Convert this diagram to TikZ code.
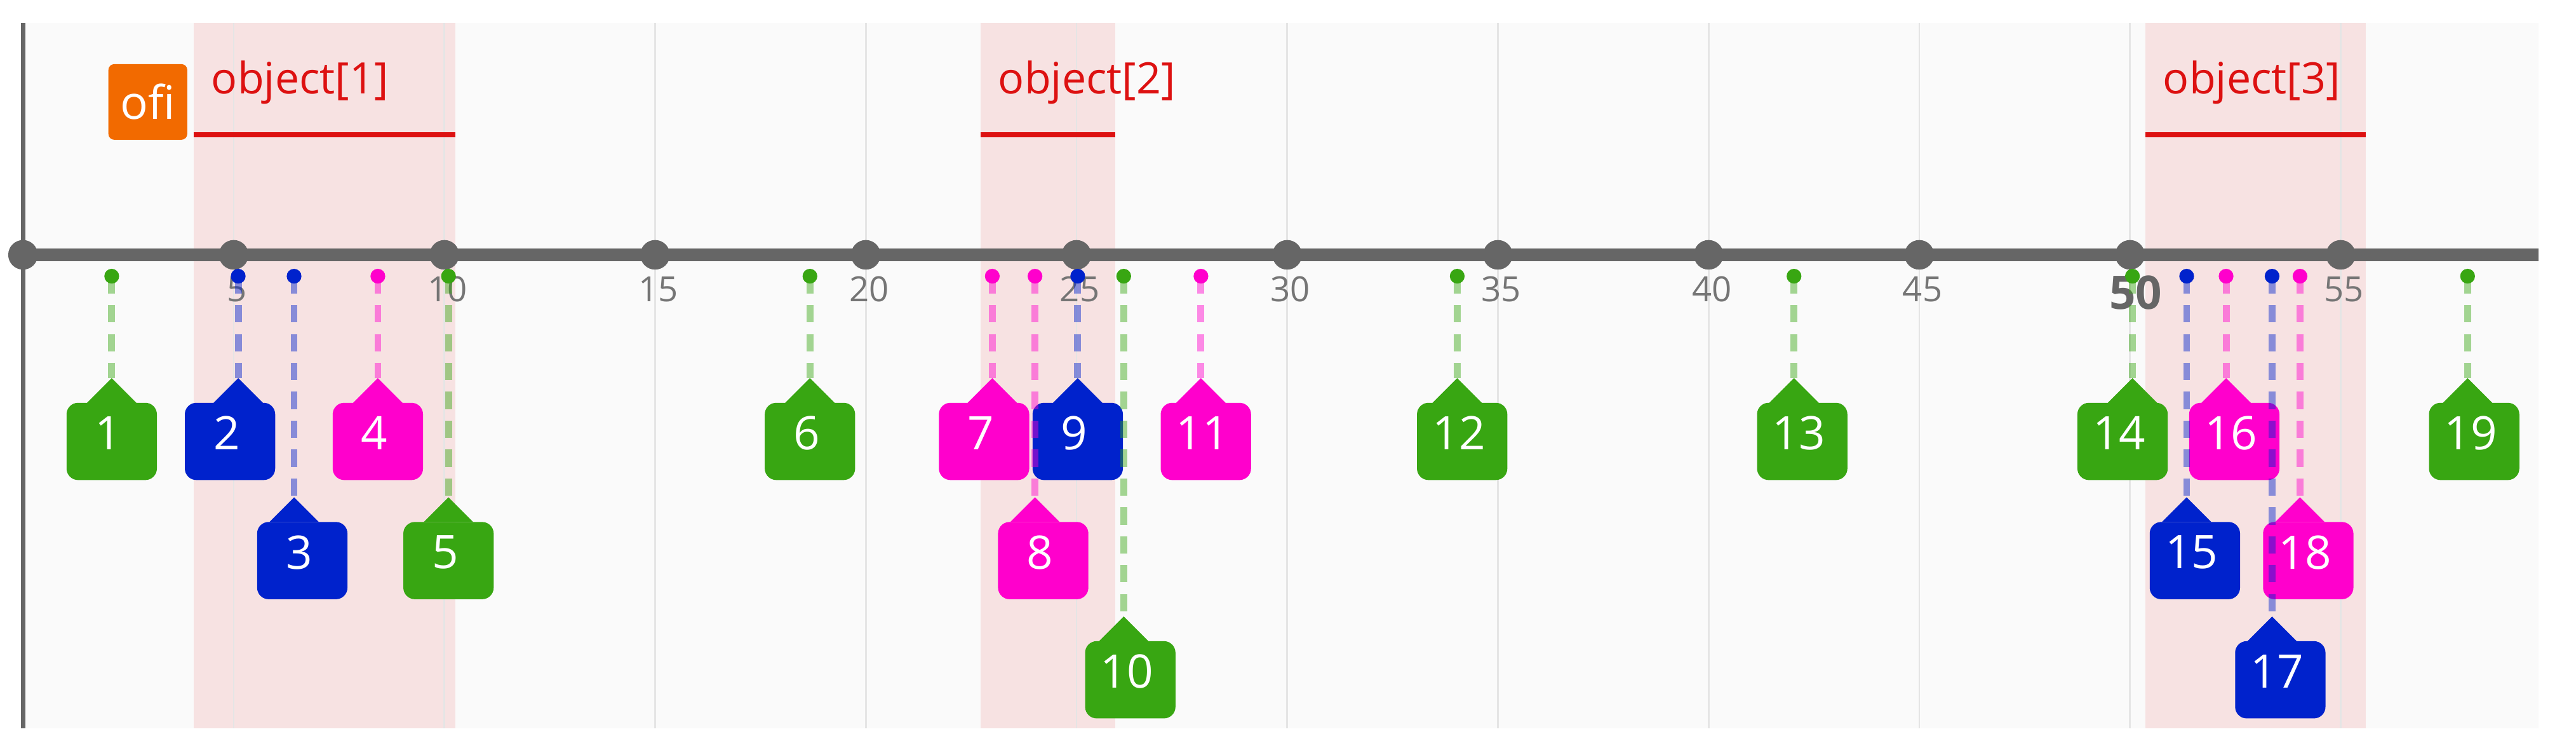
\documentclass[tikz,border=0pt]{standalone}
\usepackage{fontspec}
\setmainfont{Open Sans}
\definecolor{tg}{HTML}{38A612}
\definecolor{tb}{HTML}{0022CC}
\definecolor{tp}{HTML}{FF00CC}
\definecolor{pinkshade}{HTML}{F7E2E2}
\definecolor{axisc}{HTML}{666666}
\definecolor{objred}{HTML}{DD1111}
\definecolor{ofic}{HTML}{F26A00}
\tikzset{
  tick/.style={font=\fontsize{6}{7}\selectfont, text=axisc!90},
  taglabel/.style={font=\fontsize{8}{9}\selectfont, text=white},
  objlabel/.style={font=\fontsize{7.5}{9}\selectfont, text=objred, anchor=west, inner sep=0pt},
  grid/.style={draw=black!10, line width=0.3pt},
}
\begin{document}
\begin{tikzpicture}[x=0.1cm,y=-0.1cm]
\useasboundingbox (0,0) rectangle (156.8,45.9);
\fill[black!2] (1.4,1.4) rectangle (154.5,44.3);
% shaded regions
\fill[pinkshade] (11.8,1.4) rectangle (27.7,44.3);
\fill[pinkshade] (59.7,1.4) rectangle (67.9,44.3);
\fill[pinkshade] (130.6,1.4) rectangle (144.0,44.3);
% grid
\foreach \v in {5,10,...,55}{
  \draw[grid] ({1.4+2.565*\v},1.4) -- ({1.4+2.565*\v},44.3);
}
\draw[axisc, line width=0.8pt] (1.4,1.4) -- (1.4,44.3);
% object labels
\foreach \a/\b/\t [count=\i] in {11.8/27.7/object[1],59.7/67.9/object[2],130.6/144.0/object[3]}{
  \draw[objred, line width=0.9pt] (\a,8.2) -- (\b,8.2);
  \node[objlabel] (obj\i) at (\a+1.0,5.0) {\t};
}
\node[fill=ofic, rounded corners=1pt, minimum width=4.8mm, minimum height=4.6mm, inner sep=0pt, text=white, font=\fontsize{8}{9}\selectfont] (ofi) at (9.0,6.2) {of\hspace{0pt}i};
% axis
\draw[axisc, line width=2.2pt] (1.4,15.5) -- (154.5,15.5);
\foreach \v in {0,5,...,55}{
  \fill[axisc] ({1.4+2.565*\v},15.5) circle (0.9);
}
\foreach \v in {5,10,...,45,55}{
  \node[tick] (tk\v) at ({1.6+2.565*\v},17.6) {\v};
}
\node[font=\bfseries\fontsize{8}{9}\selectfont, text=axisc] (tk50) at (130.0,17.8) {50};
% tags: num / tip x / row / colour / box centre x
\foreach \n/\x/\r/\c/\bx in {
  1/6.8/1/tg/6.8, 2/14.5/1/tb/14.0, 3/17.9/2/tb/18.4, 4/23.0/1/tp/23.0,
  5/27.3/2/tg/27.3, 6/49.3/1/tg/49.3, 7/60.4/1/tp/59.9, 8/63.0/2/tp/63.5,
  9/65.6/1/tb/65.6, 10/68.4/3/tg/68.8, 11/73.1/1/tp/73.4, 12/88.7/1/tg/89.0,
  13/109.2/1/tg/109.7, 14/129.8/1/tg/129.2, 15/133.1/2/tb/133.6, 16/135.5/1/tp/136.0,
  17/138.3/3/tb/138.8, 18/140.0/2/tp/140.5, 19/150.2/1/tg/150.6}{
  \pgfmathsetmacro\tipy{23.0+7.25*(\r-1)}
  \pgfmathsetmacro\topy{\tipy+1.5}
  \pgfmathsetmacro\boty{\tipy+6.2}
  \coordinate (d\n) at (\x,16.8);
  \coordinate (tip\n) at (\x,\tipy);
  \fill[\c] (\x-1.5,\topy) -- (\x,\tipy) -- (\x+1.5,\topy) -- cycle;
  \fill[\c, rounded corners=2pt] (\bx-2.75,\boty) rectangle (\bx+2.75,\topy);
  \node[taglabel] (t\n) at (\bx-0.2,{(\topy+\boty)/2-0.5}) {\n};
}
\foreach \n/\c in {1/tg,2/tb,3/tb,4/tp,5/tg,6/tg,7/tp,8/tp,9/tb,10/tg,11/tp,12/tg,13/tg,14/tg,15/tb,16/tp,17/tb,18/tp,19/tg}{
  \draw[\c, opacity=0.45, line width=1.2pt, dash pattern=on 3pt off 2pt] (d\n) -- (tip\n);
  \fill[\c] (d\n) circle (0.45);
}
\end{tikzpicture}
\end{document}
